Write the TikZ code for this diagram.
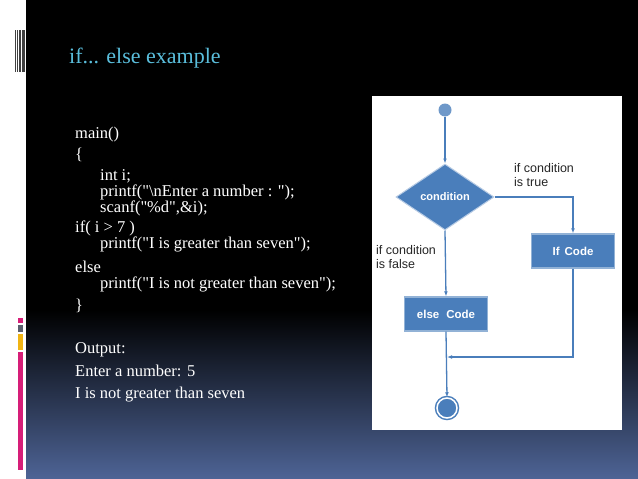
\documentclass[tikz,border=0pt]{standalone}
\usepackage{fontspec}
\setmainfont{Liberation Serif}[Ligatures=TeXOff]
\newfontfamily\flowfont{Liberation Sans}
\usetikzlibrary{shapes.geometric}
\usetikzlibrary{arrows.meta}
\definecolor{titlecyan}{RGB}{90,190,220}
\definecolor{flowblue}{RGB}{74,126,187}
\definecolor{slateblue}{RGB}{78,100,150}
\definecolor{barpink}{RGB}{214,30,120}
\definecolor{bargrey}{RGB}{90,95,110}
\definecolor{baryellow}{RGB}{240,180,20}
\tikzset{
    codeline/.style={anchor=base west, text=white, font=\fontsize{16.5}{18}\selectfont, inner sep=0pt},
    flowbox/.style={draw=flowblue!60, line width=1.2pt, fill=flowblue, text=white, font=\flowfont\bfseries\fontsize{11.5}{13}\selectfont, minimum width=83pt, minimum height=34pt},
    flowlabel/.style={anchor=north west, align=left, text=black!85, font=\flowfont\fontsize{12.5}{14}\selectfont, inner sep=0pt},
    flowline/.style={draw=flowblue, line width=1.3pt, -{Latex[length=5pt]}}
}
\begin{document}
\begin{tikzpicture}[x=1pt,y=-1pt]
    \useasboundingbox (0,0) rectangle (638,479);
    % slide background
    \fill[white] (0,0) rectangle (26,479);
    \fill[black] (26,0) rectangle (638,310);
    \shade[top color=black, bottom color=slateblue] (26,310) rectangle (638,479);
    \foreach \x/\w in {15/0.8,17/0.6,18.6/0.9,20.4/0.5,21.6/0.8,23/0.6,24.4/0.8}
        \fill[black!75] (\x,30) rectangle (\x+\w,72);
    \fill[barpink] (18,318) rectangle (23,323);
    \fill[bargrey] (18,325) rectangle (23,332);
    \fill[baryellow] (18,334) rectangle (23,350);
    \fill[barpink] (18,352) rectangle (23,470);

    % title
    \node[anchor=base west, text=titlecyan, font=\fontsize{22}{24}\selectfont, inner sep=0pt] (title) at (69,63) {if... else example};

    % code
    \node[codeline] (l1) at (75,138) {main()};
    \node[codeline] (l2) at (75,159) {\{};
    \node[codeline] (l3) at (100,180) {int i;};
    \node[codeline] (l4) at (100,196) {printf("\textbackslash nEnter a number : ");};
    \node[codeline] (l5) at (100,212) {scanf("\%d",\&i);};
    \node[codeline] (l6) at (75,232) {if( i > 7 )};
    \node[codeline] (l7) at (100,248) {printf("I is greater than seven");};
    \node[codeline] (l8) at (75,272) {else};
    \node[codeline] (l9) at (100,288) {printf("I is not greater than seven");};
    \node[codeline] (l10) at (75,310) {\}};
    \node[codeline] (l11) at (75,353) {Output:};
    \node[codeline] (l12) at (75,376) {Enter a number: 5};
    \node[codeline] (l13) at (75,398) {I is not greater than seven};

    % flowchart
    \fill[white] (372,96) rectangle (622,430);
    \node[circle, fill=flowblue!80, minimum size=13pt, inner sep=0pt] (start) at (445,110) {};
    \node[diamond, fill=flowblue, draw=flowblue!40, line width=1pt, text=white, font=\flowfont\bfseries\fontsize{11}{12}\selectfont, minimum width=98pt, minimum height=66pt, inner sep=0pt] (cond) at (445,197) {condition};
    \node[flowbox] (ifc) at (573,251) {If\, Code};
    \node[flowbox] (elsec) at (446,314) {else\,\, Code};
    \node[circle, draw=flowblue, line width=1.5pt, fill=flowblue, double=white, double distance=1.5pt, minimum size=20pt, inner sep=0pt] (stop) at (447,408) {};
    \coordinate (join) at (447,357);

    \draw[flowline] (start) -- (cond.north);
    \draw[flowline] (cond.east) -| (ifc.north);
    \draw[flowline] (cond.south) -- (elsec.north);
    \draw[flowline] (ifc.south) |- (join);
    \draw[flowline] (elsec.south) -- (stop.north);

    \node[flowlabel] (truelbl) at (514,163) {if condition\\is true};
    \node[flowlabel] (falselbl) at (376,245) {if condition\\is false};
\end{tikzpicture}
\end{document}
